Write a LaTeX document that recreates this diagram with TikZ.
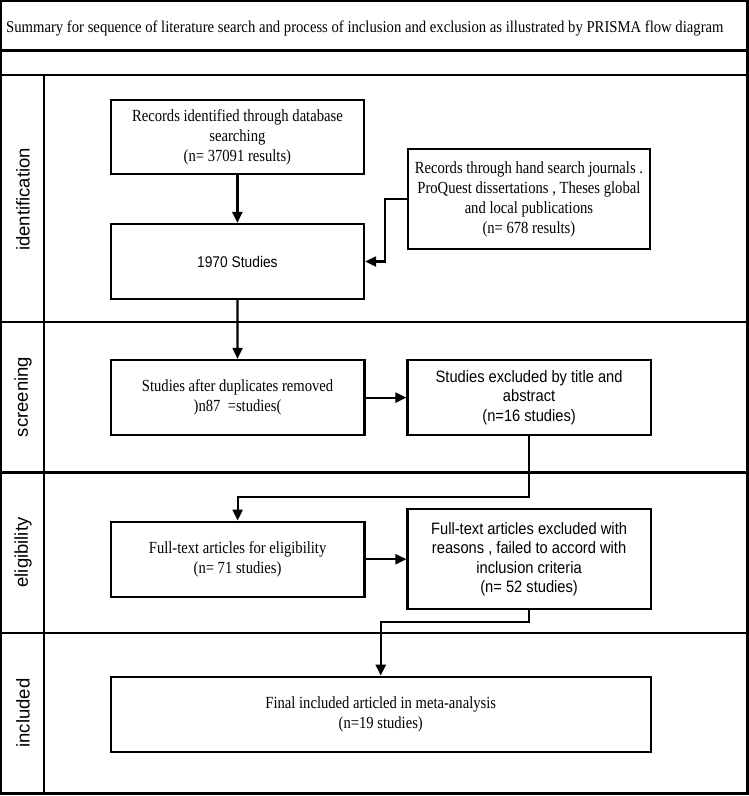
\documentclass[tikz,border=0pt]{standalone}
\usepackage{fontspec}
\usetikzlibrary{arrows.meta}
\newfontfamily\serifc[FakeStretch=0.86]{Liberation Serif}
\newfontfamily\serift[FakeStretch=0.89]{Liberation Serif}
\newfontfamily\sansc[FakeStretch=0.89]{Liberation Sans}
\newfontfamily\sansl{Liberation Sans}
\begin{document}
\begin{tikzpicture}[x=1pt,y=-1pt,
  frame/.style={line width=2.2pt},
  flowbox/.style={draw,line width=2.2pt,inner sep=0pt,align=center},
  serifbox/.style={flowbox,font=\serifc\fontsize{17}{20}\selectfont},
  sansbox/.style={flowbox,font=\sansc\fontsize{16.5}{19.5}\selectfont},
  band/.style={rotate=90,font=\sansl\fontsize{18.5}{20}\selectfont},
  arr/.style={line width=2.2pt,-{Triangle[length=11pt,width=10pt]}}]
\useasboundingbox (0,0) rectangle (749,796);
% frame
\draw[frame] (1,1) rectangle (747.5,793.5);
\draw[frame] (1,50.5) -- (747.5,50.5);
\draw[frame] (1,75) -- (747.5,75);
\draw[frame] (1,322) -- (747.5,322);
\draw[frame] (1,472.5) -- (747.5,472.5);
\draw[frame] (1,633) -- (747.5,633);
\draw[frame] (44,75) -- (44,793.5);
% title
\node[anchor=base west,inner sep=0pt,font=\serift\fontsize{16.5}{20}\selectfont] (title) at (6,32)
  {Summary for sequence of literature search and process of inclusion and exclusion as illustrated by PRISMA flow diagram};
% band labels
\node[band] (lid) at (23,199.5) {identification};
\node[band] (lsc) at (23,397) {screening};
\node[band] (lel) at (23,552.5) {eligibility};
\node[band] (lin) at (23,713) {included};
% boxes
\node[serifbox,minimum width=253.3pt,minimum height=74pt] (A) at (237.4,137)
  {Records identified through database\\searching\\(n= 37091 results)};
\node[sansbox,font=\sansc\fontsize{15.5}{19}\selectfont,minimum width=253.3pt,minimum height=75pt] (B) at (237.4,261.5)
  {1970 Studies};
\node[serifbox,minimum width=242.3pt,minimum height=99.7pt] (H) at (528.9,199.2)
  {Records through hand search journals .\\ProQuest dissertations , Theses global\\and local publications\\(n= 678 results)};
\node[serifbox,minimum width=253.7pt,minimum height=75.3pt] (C) at (237.6,397.6)
  {Studies after duplicates removed\\)n87\ \ =studies(};
\node[sansbox,minimum width=243.2pt,minimum height=75pt] (D) at (529.1,397.6)
  {Studies excluded by title and\\abstract\\(n=16 studies)};
\node[serifbox,minimum width=253.7pt,minimum height=75pt] (E) at (237.6,559.2)
  {Full-text articles for eligibility\\(n= 71 studies)};
\node[sansbox,minimum width=243.2pt,minimum height=100pt] (F) at (529.1,559)
  {Full-text articles excluded with\\reasons , failed to accord with\\inclusion criteria\\(n= 52 studies)};
\node[serifbox,minimum width=539.9pt,minimum height=75pt] (G) at (380.75,714.2)
  {Final included articled in meta-analysis\\(n=19 studies)};
% connectors
\coordinate (h1) at (385,199.2);
\coordinate (h2) at (385,261.5);
\coordinate (d1) at (529.1,496.7);
\coordinate (d2) at (237.6,496.7);
\coordinate (f1) at (529.1,621.7);
\coordinate (f2) at (380.75,621.7);
\draw[arr] (A) -- (B);
\draw[arr] (H.west) -- (h1) -- (h2) -- (B.east);
\draw[arr] (B) -- (C);
\draw[arr] (C) -- (D);
\draw[arr] (D.south) -- (d1) -- (d2) -- (E.north);
\draw[arr] (E.east) -- (F.west |- E.east);
\draw[arr] (F.south) -- (f1) -- (f2) -- (G.north);
\end{tikzpicture}
\end{document}
